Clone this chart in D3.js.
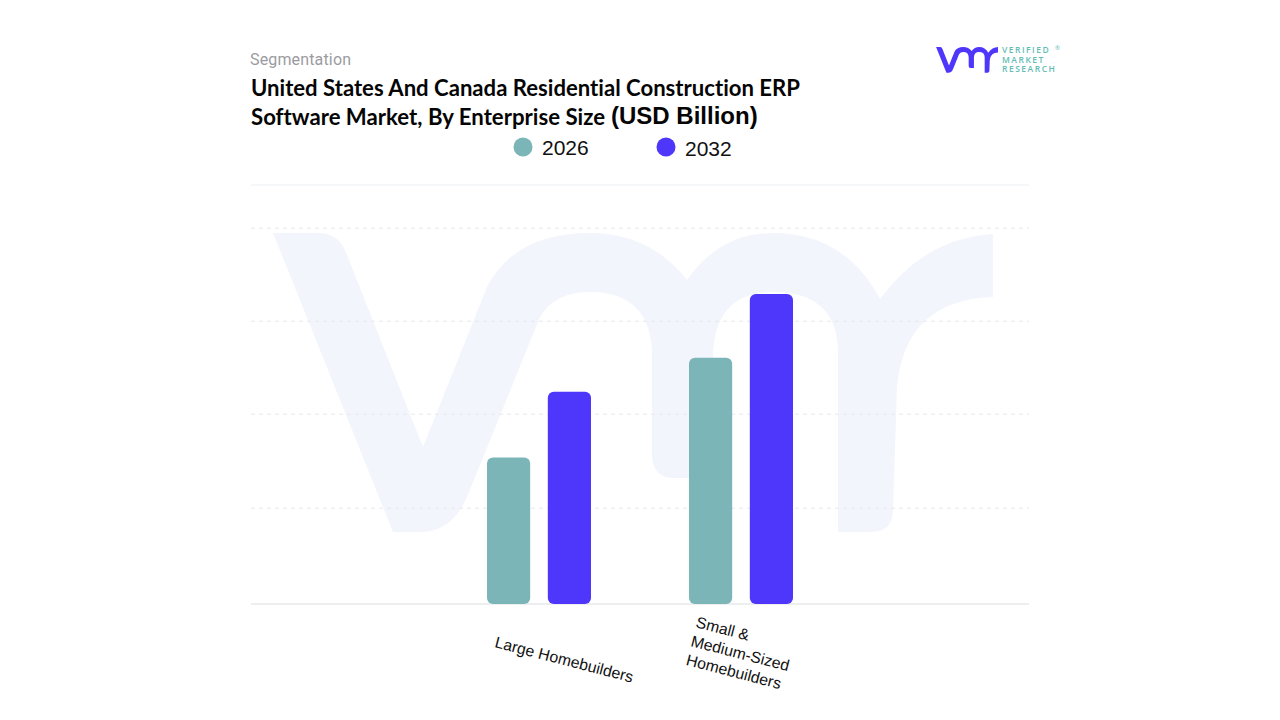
<!DOCTYPE html>
<html>
<head>
<meta charset="utf-8">
<script src="https://cdn.jsdelivr.net/npm/d3@7"></script>
<style>
  body { margin: 0; background: #fff; }
  svg { display: block; }
</style>
</head>
<body>
<script>
// values, the axis itself is hidden
var categories = ["Large Homebuilders", "Small & Medium-Sized Homebuilders"];
var categoryLines = [["Large Homebuilders"], ["Small &", "Medium-Sized", "Homebuilders"]];
var years = ["2026", "2032"];
var values2026 = [0.78, 1.31];
var values2032 = [1.13, 1.65];
var gridTicks = [0.51, 1.01, 1.505, 2];
var colors = ["#7bb5b8", "#4e36fb"];

var svg = d3.select("body").append("svg")
  .attr("width", 1280)
  .attr("height", 720);

var y = d3.scaleLinear().domain([0, 2.23]).range([604, 185]);
var x0 = d3.scalePoint().domain(categories).range([539, 741]);
var x1 = d3.scaleBand().domain(years).range([-52, 52]).paddingInner(0.29);

// the vmr mark, used big as watermark and small as logo
var vmrShape = "M273,233 L322,233 Q340,235 347,255 L423,447 L487,287 Q515,233 590,233 " +
  "Q650,233 687,280 Q720,233 773,233 Q845,233 880,299 Q925,238 993,234 L993,297 " +
  "Q905,300 897,387 L893,510 Q893,532 870,532 L838,532 L838,353 Q838,292 773,292 " +
  "Q716,292 713,353 L713,478 L673,478 Q652,478 652,453 L652,353 Q650,292 590,292 " +
  "Q555,292 540,317 L467,497 Q452,532 420,532 L393,532 Z";

svg.append("path")
  .attr("d", vmrShape)
  .attr("fill", "#f3f5fc");

// gridlines
svg.append("g").selectAll("line")
  .data(gridTicks)
  .enter()
  .append("line")
  .attr("x1", 251)
  .attr("x2", 1029)
  .attr("y1", function(d) { return y(d) })
  .attr("y2", function(d) { return y(d) })
  .attr("stroke", "#e6e8ec")
  .attr("stroke-dasharray", "4 4");

svg.append("line").attr("x1", 251).attr("x2", 1029).attr("y1", y(2.23)).attr("y2", y(2.23)).attr("stroke", "#eceef0");
svg.append("line").attr("x1", 251).attr("x2", 1029).attr("y1", y(0)).attr("y2", y(0)).attr("stroke", "#e6e8ea").attr("stroke-width", 1.5);

// bars
var rows = [values2026, values2032];
rows.forEach(function(vals, s) {
  svg.append("g").selectAll("rect")
    .data(vals)
    .enter()
    .append("rect")
    .attr("x", function(d, i) { return x0(categories[i]) + x1(years[s]) })
    .attr("y", function(d) { return y(d) })
    .attr("width", x1.bandwidth())
    .attr("height", function(d) { return y(0) - y(d) })
    .attr("rx", 6)
    .attr("fill", colors[s]);
});

// category labels, rotated like the original
var labelAnchor = [[494, 647], [695, 627]];
categoryLines.forEach(function(lines, i) {
  var t = svg.append("text")
    .attr("transform", "translate(" + labelAnchor[i][0] + "," + labelAnchor[i][1] + ") rotate(14.5)")
    .style("font-family", "'Liberation Sans', Arial, sans-serif")
    .style("font-size", "15.8px")
    .style("fill", "#111");
  lines.forEach(function(l, k) {
    t.append("tspan")
      .attr("x", 0)
      .attr("y", k * 19.5)
      .text(l);
  });
});

// heading
svg.append("text").attr("x", 250).attr("y", 65)
  .style("font-family", "Roboto, sans-serif").style("font-size", "16px").style("letter-spacing", "0.15px").style("fill", "#9b9b9f")
  .text("Segmentation");

var titleFont = "Lato, sans-serif";
svg.append("text").attr("x", 251).attr("y", 95.5)
  .attr("textLength", 549).attr("lengthAdjust", "spacingAndGlyphs")
  .style("font-family", titleFont).style("font-weight", 700).style("font-size", "23px")
  .style("font-variant-ligatures", "none").style("fill", "#050505")
  .text("United States And Canada Residential Construction ERP");
svg.append("text").attr("x", 251).attr("y", 124.5)
  .attr("textLength", 354).attr("lengthAdjust", "spacingAndGlyphs")
  .style("font-family", titleFont).style("font-weight", 700).style("font-size", "23px")
  .style("font-variant-ligatures", "none").style("fill", "#050505")
  .text("Software Market, By Enterprise Size");
svg.append("text").attr("x", 611).attr("y", 124)
  .style("font-family", "'Liberation Sans', Arial, sans-serif").style("font-weight", 700).style("font-size", "24px").style("fill", "#050505")
  .text("(USD Billion)");

// legend
var legendX = [523, 666];
var legendY = [147, 148];
years.forEach(function(yr, i) {
  svg.append("circle").attr("cx", legendX[i]).attr("cy", 147).attr("r", 9.5).attr("fill", colors[i]);
  svg.append("text").attr("x", legendX[i] + 19).attr("y", legendY[i] + 8)
    .style("font-family", "'Liberation Sans', Arial, sans-serif").style("font-size", "21px").style("fill", "#111")
    .text(yr);
});

// logo
svg.append("path")
  .attr("d", vmrShape)
  .attr("transform", "translate(936,47) scale(0.086) translate(-272,-233)")
  .attr("fill", colors[1]);
var logoLines = ["VERIFIED", "MARKET", "RESEARCH"];
svg.append("g").selectAll("text")
  .data(logoLines)
  .enter()
  .append("text")
  .attr("x", 1002)
  .attr("y", function(d, i) { return 53 + i * 9.5 })
  .style("font-family", "'Open Sans', sans-serif")
  .style("font-size", "8.5px")
  .style("font-weight", 600)
  .style("letter-spacing", "1.5px")
  .style("fill", "#62bdb4")
  .text(function(d) { return d });
svg.append("text").attr("x", 1055).attr("y", 50)
  .style("font-size", "6px").style("font-family", "'Open Sans', sans-serif").style("fill", "#62bdb4").text("®");
</script>
</body>
</html>
